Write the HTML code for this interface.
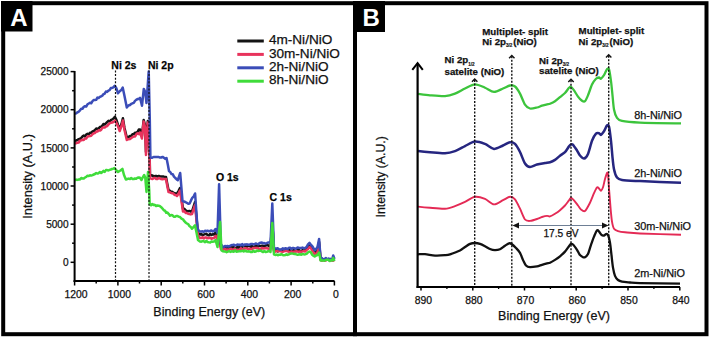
<!DOCTYPE html>
<html><head><meta charset="utf-8"><style>
body{margin:0;background:#fff}
svg{display:block}
text{font-family:"Liberation Sans",sans-serif;fill:#111;stroke:#111;stroke-width:0.25px}
.tk{font-size:10.1px}
.tkx{font-size:10.4px}
.tkb{font-size:10.4px}
.ttl{font-size:12.5px}
.ttl2{font-size:12.8px}
.ttlb{font-size:12.5px}
.ttlb2{font-size:12.3px}
.bl{font-size:10.5px;font-weight:bold;fill:#000}
.bb{font-size:9.7px;font-weight:bold;fill:#111}
.sub{font-size:4.6px;stroke-width:0.15px}
.lg{font-size:13.6px}
.lb{font-size:10.9px}
.ev{font-size:10.2px}
.pl{font-size:24px;font-weight:bold;fill:#fff;stroke:none}
</style></head>
<body><svg width="710" height="338" viewBox="0 0 710 338">
<rect width="710" height="338" fill="#fff"/>
<path d="M75.0,141.5 L76.2,140.3 L77.5,140.1 L78.8,139.1 L80.0,138.8 L81.2,138.1 L82.5,136.4 L83.8,135.6 L85.0,136.4 L86.2,134.6 L87.5,133.8 L88.8,134.5 L90.0,132.8 L91.2,132.8 L92.5,131.4 L93.8,131.0 L95.0,130.0 L96.2,128.6 L97.4,128.7 L98.6,128.4 L99.9,127.0 L101.1,126.7 L102.3,125.8 L103.5,124.0 L104.7,124.5 L105.9,123.4 L107.1,122.1 L108.4,120.9 L109.6,121.7 L110.8,120.2 L112.0,119.5 L113.5,118.5 L114.9,116.8 L116.5,120.0 L118.1,125.2 L119.7,129.0 L121.5,124.0 L122.9,118.2 L124.5,128.0 L126.8,137.5 L128.4,137.1 L130.0,136.0 L131.3,135.9 L132.5,134.2 L133.8,134.1 L135.1,132.7 L136.3,132.7 L137.6,131.8 L138.8,129.6 L140.1,129.5 L141.9,136.0 L143.7,120.0 L145.0,125.0 L146.0,152.0 L147.8,121.0 L149.2,130.0 L150.0,176.0 L151.2,175.3 L152.5,175.5 L153.8,176.8 L155.0,176.0 L156.2,176.0 L157.5,176.5 L158.8,176.0 L160.0,176.5 L161.2,176.6 L162.4,176.5 L163.6,176.5 L164.8,177.1 L166.0,177.0 L167.2,183.5 L168.5,190.0 L169.7,190.7 L170.9,191.7 L172.1,191.8 L173.4,192.8 L174.6,193.1 L175.8,193.9 L177.0,193.5 L178.5,191.1 L180.0,188.0 L181.5,198.5 L183.0,209.0 L184.3,208.8 L185.6,210.4 L186.9,210.9 L188.1,211.2 L189.4,210.9 L190.7,211.5 L192.0,211.5 L193.5,206.8 L195.0,202.0 L196.5,217.5 L198.0,233.0 L200.0,234.5 L201.3,234.0 L202.5,235.1 L203.8,234.6 L205.1,234.1 L206.4,233.7 L207.6,235.1 L208.9,235.4 L210.2,233.8 L211.5,235.0 L212.7,234.3 L214.0,234.5 L215.5,232.5 L217.5,236.0 L219.1,222.0 L220.8,247.0 L222.5,248.0 L223.7,247.3 L225.0,247.5 L226.2,248.3 L227.4,248.4 L228.6,246.8 L229.9,247.8 L231.1,246.7 L232.3,247.8 L233.6,247.0 L234.8,248.0 L236.0,248.1 L237.3,247.1 L238.5,247.9 L239.7,246.6 L240.9,246.1 L242.2,247.0 L243.4,245.9 L244.6,246.1 L245.9,246.4 L247.1,246.7 L248.3,245.8 L249.6,245.6 L250.8,247.0 L252.0,245.9 L253.2,247.0 L254.5,246.8 L255.7,245.8 L256.9,245.9 L258.2,245.9 L259.4,246.1 L260.6,245.9 L261.9,245.8 L263.1,245.8 L264.3,246.3 L265.5,245.5 L266.8,245.2 L268.0,245.3 L269.2,246.3 L270.5,246.5 L272.3,223.0 L274.0,250.5 L275.2,250.0 L276.5,250.1 L277.7,251.4 L279.0,250.5 L280.2,250.6 L281.4,249.6 L282.7,250.3 L283.9,250.6 L285.2,249.6 L286.4,250.7 L287.6,250.7 L288.9,249.7 L290.1,250.7 L291.4,250.4 L292.6,250.8 L293.8,250.2 L295.1,250.9 L296.3,250.9 L297.6,249.6 L298.8,249.7 L300.0,250.8 L301.3,251.3 L302.5,250.1 L303.8,250.4 L305.0,250.5 L306.5,248.8 L308.0,246.5 L309.5,245.0 L310.8,246.6 L312.1,248.4 L313.4,250.4 L314.7,252.5 L316.1,251.4 L317.5,250.0 L319.1,242.0 L320.6,259.5 L321.9,259.1 L323.1,259.3 L324.4,260.0 L325.7,258.6 L326.9,259.6 L328.2,259.9 L329.4,259.2 L330.7,259.0 L332.0,260.0 L333.2,259.0 L334.5,259.5" fill="none" stroke="#141414" stroke-width="2.5" stroke-linejoin="round"/>
<path d="M75.0,144.2 L76.2,142.9 L77.5,142.7 L78.8,142.5 L80.0,140.7 L81.2,140.4 L82.5,139.7 L83.8,139.9 L85.0,138.5 L86.2,138.5 L87.5,136.6 L88.8,136.2 L90.0,136.1 L91.2,135.8 L92.5,134.3 L93.8,133.2 L95.0,133.0 L96.2,131.6 L97.4,131.6 L98.6,130.2 L99.9,130.6 L101.1,129.9 L102.3,127.9 L103.5,127.4 L104.7,127.6 L105.9,126.5 L107.1,126.1 L108.4,124.5 L109.6,123.3 L110.8,122.9 L112.0,122.5 L113.5,122.0 L114.9,120.5 L116.5,123.0 L118.1,126.6 L119.7,131.0 L121.5,126.0 L122.9,120.5 L124.5,130.0 L126.8,140.0 L128.4,139.2 L130.0,139.0 L131.3,138.0 L132.5,137.2 L133.8,136.4 L135.1,136.5 L136.3,134.3 L137.6,133.2 L138.8,134.1 L140.1,132.5 L141.9,138.5 L143.7,121.5 L145.0,127.0 L146.0,155.0 L147.8,122.5 L149.2,135.0 L150.0,178.0 L151.2,178.7 L152.5,178.9 L153.8,177.9 L155.0,178.0 L156.2,178.9 L157.5,179.0 L158.8,177.9 L160.0,178.5 L161.2,179.0 L162.4,179.3 L163.6,179.1 L164.8,178.9 L166.0,179.0 L167.2,185.5 L168.5,192.0 L169.7,192.2 L170.9,192.9 L172.1,193.2 L173.4,193.5 L174.6,195.0 L175.8,195.0 L177.0,196.0 L178.5,193.8 L180.0,190.5 L181.5,201.0 L183.0,211.5 L184.3,211.0 L185.6,212.9 L186.9,212.9 L188.1,213.7 L189.4,214.0 L190.7,214.4 L192.0,214.0 L193.5,209.5 L195.0,205.0 L196.5,220.5 L198.0,236.0 L200.0,238.0 L201.3,238.1 L202.5,237.1 L203.8,238.4 L205.1,237.4 L206.4,237.6 L207.6,238.3 L208.9,238.0 L210.2,237.8 L211.5,238.8 L212.7,238.2 L214.0,238.0 L215.5,236.0 L217.5,239.5 L219.1,222.0 L220.8,249.0 L222.5,249.5 L223.7,249.2 L225.0,249.0 L226.2,250.1 L227.4,249.4 L228.6,249.9 L229.9,249.1 L231.1,248.8 L232.3,249.3 L233.6,249.8 L234.8,248.6 L236.0,249.7 L237.3,249.9 L238.5,249.7 L239.7,249.7 L240.9,248.2 L242.2,249.3 L243.4,249.7 L244.6,248.2 L245.9,248.6 L247.1,248.5 L248.3,249.0 L249.6,248.8 L250.8,248.8 L252.0,249.3 L253.2,247.9 L254.5,248.0 L255.7,248.1 L256.9,248.1 L258.2,247.9 L259.4,249.5 L260.6,249.3 L261.9,247.9 L263.1,248.6 L264.3,248.2 L265.5,248.2 L266.8,248.3 L268.0,248.5 L269.2,249.0 L270.5,249.0 L272.3,223.0 L274.0,251.5 L275.2,251.7 L276.5,251.2 L277.7,250.9 L279.0,251.2 L280.2,250.8 L281.4,251.6 L282.7,251.9 L283.9,251.3 L285.2,250.7 L286.4,250.9 L287.6,251.3 L288.9,251.7 L290.1,252.0 L291.4,251.3 L292.6,252.0 L293.8,251.7 L295.1,251.4 L296.3,251.3 L297.6,251.5 L298.8,251.9 L300.0,251.4 L301.3,251.8 L302.5,251.4 L303.8,251.0 L305.0,251.5 L306.5,250.1 L308.0,248.9 L309.5,247.0 L310.8,248.0 L312.1,250.4 L313.4,252.1 L314.7,254.0 L316.1,253.7 L317.5,252.0 L319.1,245.0 L320.6,260.0 L321.9,260.8 L323.1,259.8 L324.4,260.7 L325.7,260.5 L326.9,259.6 L328.2,259.9 L329.4,259.3 L330.7,260.6 L332.0,260.3 L333.2,260.7 L334.5,260.0" fill="none" stroke="#e8335c" stroke-width="2.5" stroke-linejoin="round"/>
<path d="M75.0,113.7 L76.2,113.4 L77.5,112.3 L78.8,111.6 L80.0,110.4 L81.2,108.7 L82.5,108.7 L83.8,106.8 L85.0,106.2 L86.2,106.5 L87.5,104.3 L88.8,103.5 L90.0,102.7 L91.2,103.3 L92.5,101.1 L93.8,100.0 L95.0,100.0 L96.2,99.8 L97.4,97.6 L98.6,98.0 L99.9,96.9 L101.1,96.3 L102.3,95.7 L103.5,94.1 L104.7,93.7 L105.9,91.5 L107.1,91.9 L108.4,90.6 L109.6,90.1 L110.8,88.1 L112.0,88.0 L113.3,87.3 L114.7,85.7 L116.5,88.5 L118.0,93.3 L120.0,91.0 L121.3,90.0 L122.7,87.5 L124.5,96.0 L126.8,107.5 L128.4,105.5 L130.0,105.0 L131.2,103.8 L132.5,103.3 L133.8,102.9 L135.0,100.9 L136.2,99.9 L137.5,99.1 L138.8,98.9 L140.0,97.8 L142.0,105.7 L143.8,88.9 L145.3,92.0 L146.5,103.0 L148.7,71.5 L149.8,120.0 L150.4,157.5 L151.9,157.8 L153.5,157.0 L155.0,157.0 L156.2,156.9 L157.5,157.1 L158.8,157.1 L160.0,157.5 L161.3,157.5 L162.6,156.9 L163.9,157.8 L165.2,158.8 L166.5,158.0 L167.8,164.5 L169.0,171.0 L170.3,172.2 L171.5,174.1 L172.8,174.3 L174.0,176.6 L175.3,178.0 L176.5,179.2 L177.8,180.2 L180.2,173.0 L182.5,201.0 L183.9,201.5 L185.3,202.0 L186.8,202.8 L188.2,203.7 L189.6,203.5 L191.0,200.4 L192.3,197.8 L193.7,196.4 L195.1,193.5 L196.3,211.0 L197.5,228.5 L198.8,230.7 L200.0,231.5 L201.3,231.5 L202.5,231.3 L203.8,231.8 L205.1,230.8 L206.4,230.9 L207.6,230.7 L208.9,231.3 L210.2,230.8 L211.5,230.6 L212.7,231.4 L214.0,231.0 L215.5,229.0 L217.5,233.0 L219.1,184.2 L220.8,244.0 L222.5,246.5 L223.7,247.2 L225.0,245.9 L226.2,246.5 L227.4,245.9 L228.6,246.6 L229.9,246.0 L231.1,245.3 L232.3,245.1 L233.6,244.7 L234.8,245.4 L236.0,245.1 L237.3,244.6 L238.5,244.8 L239.7,244.7 L240.9,245.4 L242.2,244.1 L243.4,245.5 L244.6,244.5 L245.9,244.6 L247.1,244.3 L248.3,244.8 L249.6,244.7 L250.8,244.1 L252.0,243.9 L253.2,244.2 L254.5,244.3 L255.7,243.4 L256.9,243.9 L258.2,244.2 L259.4,243.2 L260.6,242.7 L261.9,242.6 L263.1,243.3 L264.3,243.1 L265.5,243.5 L266.8,243.2 L268.0,242.5 L269.2,242.5 L270.5,243.5 L272.3,203.6 L274.0,249.0 L275.2,248.4 L276.5,248.5 L277.7,248.3 L279.0,249.2 L280.2,249.4 L281.4,249.5 L282.7,248.3 L283.9,249.3 L285.2,248.3 L286.4,248.5 L287.6,249.0 L288.9,247.8 L290.1,247.7 L291.4,249.0 L292.6,248.0 L293.8,248.1 L295.1,248.5 L296.3,248.6 L297.6,247.4 L298.8,247.9 L300.0,248.0 L301.3,248.1 L302.5,247.6 L303.8,248.2 L305.0,248.0 L306.5,247.1 L308.0,244.4 L309.5,242.9 L310.8,244.8 L312.1,245.9 L313.4,248.0 L314.7,250.3 L316.1,248.9 L317.5,247.0 L319.1,238.9 L320.6,258.7 L321.9,258.0 L323.2,259.4 L324.5,259.4 L325.8,258.0 L327.2,259.5 L328.5,258.5 L329.8,259.2 L331.1,259.2 L332.4,258.7 L333.2,255.5 L334.5,259.0" fill="none" stroke="#3b4db8" stroke-width="2.5" stroke-linejoin="round"/>
<path d="M75.0,180.4 L76.2,179.6 L77.5,179.9 L78.8,179.5 L80.0,179.4 L81.2,178.0 L82.5,178.5 L83.8,178.4 L85.0,177.5 L86.2,176.9 L87.5,175.7 L88.8,176.0 L90.0,175.3 L91.2,175.6 L92.5,175.1 L93.8,174.5 L95.0,174.0 L96.2,173.1 L97.4,173.5 L98.6,173.2 L99.9,172.0 L101.1,172.9 L102.3,172.1 L103.5,170.8 L104.7,171.9 L105.9,170.1 L107.1,170.1 L108.4,170.5 L109.6,169.9 L110.8,169.5 L112.0,169.0 L113.2,168.8 L114.4,168.0 L116.5,170.5 L118.0,172.0 L119.2,171.2 L120.5,170.5 L122.4,168.9 L124.0,175.0 L125.9,179.5 L127.3,179.0 L128.6,178.6 L130.0,179.0 L131.2,178.1 L132.5,179.1 L133.8,179.0 L135.0,178.5 L136.2,178.7 L137.5,177.8 L138.8,177.5 L140.0,177.8 L141.5,180.0 L142.8,177.3 L144.2,175.0 L145.3,178.0 L146.5,192.0 L148.0,172.0 L149.2,190.0 L149.7,204.4 L151.0,205.3 L152.3,204.0 L153.6,205.1 L154.8,204.8 L156.1,206.0 L157.4,205.5 L158.7,205.7 L160.0,206.2 L161.2,207.2 L162.5,208.6 L163.8,210.3 L165.0,210.7 L166.2,212.8 L167.5,212.6 L168.8,214.1 L170.0,215.7 L171.2,215.1 L172.5,215.3 L173.8,216.7 L175.0,216.8 L176.2,215.9 L177.5,216.1 L178.8,216.7 L180.0,217.0 L181.5,218.6 L183.0,219.3 L184.3,221.2 L185.6,222.5 L186.9,223.5 L188.1,224.1 L189.4,225.9 L190.7,226.9 L192.0,228.8 L193.5,227.0 L195.0,225.2 L196.5,232.6 L198.0,240.0 L200.0,241.6 L201.3,241.7 L202.5,241.1 L203.8,241.2 L205.1,242.1 L206.4,240.8 L207.6,242.1 L208.9,242.3 L210.2,242.4 L211.5,241.4 L212.7,241.7 L214.0,241.6 L215.5,240.0 L217.5,247.0 L218.8,234.5 L220.1,222.0 L221.5,250.5 L223.0,251.3 L224.2,251.4 L225.4,251.5 L226.6,252.2 L227.9,251.6 L229.1,250.9 L230.3,251.9 L231.5,251.3 L232.7,251.5 L233.9,251.7 L235.2,250.4 L236.4,251.8 L237.6,251.6 L238.8,251.3 L240.0,251.3 L241.2,251.2 L242.5,250.7 L243.7,251.4 L244.9,250.5 L246.1,251.3 L247.3,251.6 L248.5,251.2 L249.8,251.4 L251.0,252.1 L252.2,252.0 L253.4,250.6 L254.6,251.8 L255.8,251.5 L257.1,250.5 L258.3,251.0 L259.5,250.8 L260.7,250.5 L261.9,251.4 L263.1,252.1 L264.4,251.0 L265.6,252.0 L266.8,251.7 L268.0,251.3 L269.2,251.0 L270.5,252.0 L272.3,223.0 L274.0,254.4 L275.2,255.0 L276.5,254.6 L277.7,255.2 L279.0,254.8 L280.2,254.8 L281.4,254.1 L282.7,255.0 L283.9,255.2 L285.2,255.1 L286.4,254.3 L287.6,254.9 L288.9,254.4 L290.1,253.7 L291.4,253.6 L292.6,253.6 L293.8,253.9 L295.1,253.8 L296.3,254.4 L297.6,254.8 L298.8,254.5 L300.0,254.3 L301.3,254.7 L302.5,254.0 L303.8,254.3 L305.0,254.4 L306.5,253.9 L308.0,252.3 L309.5,251.5 L310.8,252.2 L312.1,254.7 L313.4,255.6 L314.7,256.5 L316.1,255.5 L317.5,255.0 L319.1,252.5 L320.6,260.5 L321.9,260.3 L323.2,260.6 L324.5,260.7 L325.8,260.0 L327.2,259.6 L328.5,260.0 L329.8,261.0 L331.1,259.9 L332.4,260.5 L333.2,258.0 L334.5,261.0" fill="none" stroke="#3fdc3a" stroke-width="2.5" stroke-linejoin="round"/>
<line x1="74.6" y1="71" x2="74.6" y2="282" stroke="#000" stroke-width="2"/>
<line x1="73.6" y1="281" x2="334.5" y2="281" stroke="#000" stroke-width="2"/>
<line x1="70.6" y1="262.3" x2="74.6" y2="262.3" stroke="#000" stroke-width="1.5"/>
<text x="68.6" y="265.9" text-anchor="end" class="tk">0</text>
<line x1="72.1" y1="243.2" x2="74.6" y2="243.2" stroke="#000" stroke-width="1.5"/>
<line x1="70.6" y1="224.2" x2="74.6" y2="224.2" stroke="#000" stroke-width="1.5"/>
<text x="68.6" y="227.8" text-anchor="end" class="tk">5000</text>
<line x1="72.1" y1="205.1" x2="74.6" y2="205.1" stroke="#000" stroke-width="1.5"/>
<line x1="70.6" y1="186.0" x2="74.6" y2="186.0" stroke="#000" stroke-width="1.5"/>
<text x="68.6" y="189.6" text-anchor="end" class="tk">10000</text>
<line x1="72.1" y1="167.0" x2="74.6" y2="167.0" stroke="#000" stroke-width="1.5"/>
<line x1="70.6" y1="147.9" x2="74.6" y2="147.9" stroke="#000" stroke-width="1.5"/>
<text x="68.6" y="151.5" text-anchor="end" class="tk">15000</text>
<line x1="72.1" y1="128.8" x2="74.6" y2="128.8" stroke="#000" stroke-width="1.5"/>
<line x1="70.6" y1="109.7" x2="74.6" y2="109.7" stroke="#000" stroke-width="1.5"/>
<text x="68.6" y="113.3" text-anchor="end" class="tk">20000</text>
<line x1="72.1" y1="90.7" x2="74.6" y2="90.7" stroke="#000" stroke-width="1.5"/>
<line x1="70.6" y1="71.6" x2="74.6" y2="71.6" stroke="#000" stroke-width="1.5"/>
<text x="68.6" y="75.2" text-anchor="end" class="tk">25000</text>
<line x1="74.6" y1="281" x2="74.6" y2="285.5" stroke="#000" stroke-width="1.5"/>
<text x="76.1" y="298.2" text-anchor="middle" class="tkx">1200</text>
<line x1="96.2" y1="281" x2="96.2" y2="283.5" stroke="#000" stroke-width="1.5"/>
<line x1="117.9" y1="281" x2="117.9" y2="285.5" stroke="#000" stroke-width="1.5"/>
<text x="119.4" y="298.2" text-anchor="middle" class="tkx">1000</text>
<line x1="139.5" y1="281" x2="139.5" y2="283.5" stroke="#000" stroke-width="1.5"/>
<line x1="161.2" y1="281" x2="161.2" y2="285.5" stroke="#000" stroke-width="1.5"/>
<text x="162.7" y="298.2" text-anchor="middle" class="tkx">800</text>
<line x1="182.8" y1="281" x2="182.8" y2="283.5" stroke="#000" stroke-width="1.5"/>
<line x1="204.5" y1="281" x2="204.5" y2="285.5" stroke="#000" stroke-width="1.5"/>
<text x="206.0" y="298.2" text-anchor="middle" class="tkx">600</text>
<line x1="226.1" y1="281" x2="226.1" y2="283.5" stroke="#000" stroke-width="1.5"/>
<line x1="247.8" y1="281" x2="247.8" y2="285.5" stroke="#000" stroke-width="1.5"/>
<text x="249.3" y="298.2" text-anchor="middle" class="tkx">400</text>
<line x1="269.4" y1="281" x2="269.4" y2="283.5" stroke="#000" stroke-width="1.5"/>
<line x1="291.1" y1="281" x2="291.1" y2="285.5" stroke="#000" stroke-width="1.5"/>
<text x="292.6" y="298.2" text-anchor="middle" class="tkx">200</text>
<line x1="312.8" y1="281" x2="312.8" y2="283.5" stroke="#000" stroke-width="1.5"/>
<line x1="334.4" y1="281" x2="334.4" y2="285.5" stroke="#000" stroke-width="1.5"/>
<text x="335.9" y="298.2" text-anchor="middle" class="tkx">0</text>
<text x="209.3" y="315.7" text-anchor="middle" class="ttl">Binding Energy (eV)</text>
<text transform="translate(31.6,176.4) rotate(-90)" text-anchor="middle" class="ttl2">Intensity (A.U.)</text>
<line x1="115.5" y1="70.5" x2="115.5" y2="280" stroke="#111" stroke-width="1.2" stroke-dasharray="2,1.6"/>
<line x1="149" y1="70.5" x2="149" y2="280" stroke="#111" stroke-width="1.2" stroke-dasharray="2,1.6"/>
<text x="111.3" y="68.6" class="bl">Ni 2s</text>
<text x="147.9" y="68.6" class="bl">Ni 2p</text>
<text x="215.9" y="181.2" class="bl">O 1s</text>
<text x="269.6" y="200.7" class="bl">C 1s</text>
<line x1="237.3" y1="41.0" x2="263.8" y2="41.0" stroke="#141414" stroke-width="3"/>
<text x="268.9" y="44.1" class="lg">4m-Ni/NiO</text>
<line x1="237.3" y1="54.4" x2="263.8" y2="54.4" stroke="#e8335c" stroke-width="3"/>
<text x="268.9" y="57.5" class="lg">30m-Ni/NiO</text>
<line x1="237.3" y1="67.8" x2="263.8" y2="67.8" stroke="#3b4db8" stroke-width="3"/>
<text x="268.9" y="70.9" class="lg">2h-Ni/NiO</text>
<line x1="237.3" y1="81.2" x2="263.8" y2="81.2" stroke="#3fdc3a" stroke-width="3"/>
<text x="268.9" y="84.3" class="lg">8h-Ni/NiO</text>
<path d="M418.0,93.9 C419.7,94.1 426.2,95.0 430.0,95.3 C433.8,95.6 441.5,96.3 445.0,96.1 C448.5,95.9 452.2,94.7 455.0,93.6 C457.8,92.5 462.2,89.8 465.0,88.5 C467.8,87.2 472.2,84.4 475.0,84.3 C477.8,84.2 482.3,86.6 485.0,87.7 C487.7,88.8 491.4,91.8 494.0,91.9 C496.6,92.0 500.7,89.4 503.0,88.5 C505.3,87.6 508.3,85.8 510.0,85.5 C511.7,85.2 513.6,85.4 515.0,86.5 C516.4,87.6 518.6,91.0 520.0,93.6 C521.4,96.2 523.6,102.5 525.0,104.6 C526.4,106.7 528.3,108.1 530.0,108.5 C531.7,108.9 535.3,107.9 537.0,107.5 C538.7,107.1 540.6,106.1 542.0,105.7 C543.4,105.3 545.9,104.7 547.0,104.4 C548.1,104.1 548.9,104.3 550.0,103.8 C551.1,103.3 553.6,102.1 555.0,101.2 C556.4,100.3 558.6,98.3 560.0,97.1 C561.4,95.9 563.7,94.3 565.0,93.0 C566.3,91.7 568.1,88.7 569.0,87.8 C569.9,86.9 570.3,86.3 571.0,86.7 C571.7,87.1 573.0,89.0 574.0,90.4 C575.0,91.8 576.9,95.1 578.0,96.6 C579.1,98.1 581.0,100.0 582.0,100.7 C583.0,101.4 584.1,102.0 585.0,101.2 C585.9,100.4 587.0,97.7 588.0,95.3 C589.0,92.9 590.9,87.0 592.0,84.6 C593.1,82.2 595.0,79.7 596.0,78.7 C597.0,77.7 598.3,77.5 599.0,77.5 C599.7,77.5 600.3,79.0 601.0,78.7 C601.7,78.4 603.1,76.5 604.0,75.2 C604.9,73.9 606.3,70.0 607.0,69.2 C607.7,68.4 608.4,67.5 609.0,69.2 C609.6,70.9 610.5,77.4 611.0,81.1 C611.5,84.8 612.1,91.3 612.5,95.3 C612.9,99.3 613.4,106.3 614.0,109.5 C614.6,112.7 615.9,116.2 617.0,117.8 C618.1,119.4 618.7,120.2 622.0,120.9 C625.3,121.6 631.6,122.2 640.0,122.6 C648.4,123.0 675.2,123.3 681.0,123.4" fill="none" stroke="#3cc43c" stroke-width="2.3" stroke-linejoin="round"/>
<path d="M418.0,151.1 C419.7,151.3 426.2,152.0 430.0,152.3 C433.8,152.6 441.5,153.5 445.0,153.3 C448.5,153.1 452.2,152.1 455.0,151.1 C457.8,150.1 462.2,147.5 465.0,146.1 C467.8,144.7 472.2,141.8 475.0,141.5 C477.8,141.2 482.3,142.9 485.0,143.9 C487.7,144.9 491.4,148.7 494.0,148.9 C496.6,149.1 500.7,146.4 503.0,145.5 C505.3,144.6 508.3,142.4 510.0,142.2 C511.7,142.0 513.6,142.5 515.0,143.9 C516.4,145.3 518.6,149.2 520.0,152.0 C521.4,154.8 523.6,161.4 525.0,163.5 C526.4,165.6 528.3,166.9 530.0,167.0 C531.7,167.1 534.9,165.1 537.0,164.5 C539.1,163.9 543.2,163.3 545.0,163.0 C546.8,162.7 548.6,162.6 550.0,162.2 C551.4,161.8 553.6,160.8 555.0,159.9 C556.4,159.0 558.6,156.8 560.0,155.7 C561.4,154.6 563.7,153.4 565.0,152.1 C566.3,150.8 568.1,147.5 569.0,146.4 C569.9,145.3 570.4,144.7 571.0,144.5 C571.6,144.3 572.1,144.0 573.0,144.8 C573.9,145.7 576.0,149.0 577.0,150.5 C578.0,152.0 579.0,154.4 580.0,155.5 C581.0,156.6 582.9,158.8 584.0,158.6 C585.1,158.4 586.9,156.4 588.0,153.9 C589.1,151.4 590.9,143.7 592.0,140.8 C593.1,137.9 595.0,134.8 596.0,133.7 C597.0,132.6 598.3,133.0 599.0,133.2 C599.7,133.4 600.3,135.2 601.0,134.9 C601.7,134.6 603.1,132.6 604.0,131.3 C604.9,130.0 606.3,126.1 607.0,125.4 C607.7,124.7 608.4,124.4 609.0,126.6 C609.6,128.8 610.5,136.4 611.0,140.8 C611.5,145.2 612.1,153.4 612.5,157.4 C612.9,161.4 613.4,166.4 614.0,169.3 C614.6,172.2 615.9,176.1 617.0,177.6 C618.1,179.1 618.7,179.5 622.0,180.0 C625.3,180.5 631.6,180.7 640.0,181.1 C648.4,181.5 675.2,182.6 681.0,182.8" fill="none" stroke="#262680" stroke-width="2.5" stroke-linejoin="round"/>
<path d="M418.0,206.6 C419.7,206.8 426.2,207.5 430.0,207.8 C433.8,208.1 441.5,208.9 445.0,208.7 C448.5,208.5 452.2,207.1 455.0,206.1 C457.8,205.1 462.2,203.2 465.0,201.9 C467.8,200.6 472.2,197.2 475.0,196.8 C477.8,196.4 482.3,197.8 485.0,198.9 C487.7,200.0 491.4,204.2 494.0,204.4 C496.6,204.6 500.7,201.3 503.0,200.2 C505.3,199.1 508.3,196.9 510.0,196.8 C511.7,196.7 513.6,197.7 515.0,199.4 C516.4,201.1 518.6,205.9 520.0,208.7 C521.4,211.5 523.6,217.8 525.0,219.5 C526.4,221.2 528.3,221.0 530.0,220.9 C531.7,220.8 535.3,219.6 537.0,219.0 C538.7,218.4 540.6,217.4 542.0,217.0 C543.4,216.6 545.9,216.0 547.0,215.9 C548.1,215.8 548.9,216.7 550.0,216.4 C551.1,216.1 553.6,214.7 555.0,213.8 C556.4,212.9 558.6,211.4 560.0,210.2 C561.4,209.0 563.7,206.9 565.0,205.5 C566.3,204.1 568.1,201.5 569.0,200.4 C569.9,199.3 570.3,197.8 571.0,197.8 C571.7,197.8 573.0,199.3 574.0,200.4 C575.0,201.5 577.0,204.2 578.0,205.5 C579.0,206.8 580.0,208.7 581.0,209.5 C582.0,210.3 583.7,212.0 585.0,211.0 C586.3,210.0 588.7,205.2 590.0,202.7 C591.3,200.2 593.0,195.4 594.0,193.2 C595.0,191.0 596.3,188.0 597.0,187.3 C597.7,186.6 598.4,188.0 599.0,188.5 C599.6,189.0 600.4,191.0 601.0,190.8 C601.6,190.6 602.4,189.0 603.0,187.3 C603.6,185.6 604.4,181.0 605.0,179.0 C605.6,177.0 606.6,173.7 607.0,173.0 C607.4,172.3 607.7,172.0 608.0,174.2 C608.3,176.4 608.6,183.8 609.0,188.5 C609.4,193.2 610.1,202.7 610.5,207.4 C610.9,212.1 611.5,218.7 612.0,221.7 C612.5,224.7 613.1,227.5 614.0,228.8 C614.9,230.1 616.4,230.6 618.0,231.1 C619.6,231.6 621.9,232.0 625.0,232.3 C628.1,232.6 632.1,233.2 640.0,233.5 C647.9,233.8 675.2,234.5 681.0,234.7" fill="none" stroke="#e42a55" stroke-width="1.9" stroke-linejoin="round"/>
<path d="M418.0,254.3 C419.0,254.3 422.6,253.9 425.0,254.1 C427.4,254.3 432.2,255.4 435.0,255.6 C437.8,255.8 442.9,255.4 445.0,255.2 C447.1,255.0 447.9,255.0 450.0,254.3 C452.1,253.6 457.9,251.5 460.0,250.5 C462.1,249.5 463.6,247.9 465.0,247.0 C466.4,246.1 468.6,244.5 470.0,243.9 C471.4,243.3 473.6,243.0 475.0,243.0 C476.4,243.0 478.6,243.4 480.0,243.9 C481.4,244.4 483.6,245.5 485.0,246.2 C486.4,246.9 488.6,248.4 490.0,249.0 C491.4,249.6 493.6,250.1 495.0,250.1 C496.4,250.1 498.6,249.8 500.0,249.2 C501.4,248.6 503.7,246.5 505.0,245.7 C506.3,244.9 508.0,243.5 509.0,243.3 C510.0,243.1 511.0,243.5 512.0,244.2 C513.0,244.9 514.9,246.8 516.0,248.0 C517.1,249.2 519.0,251.1 520.0,252.8 C521.0,254.5 522.1,258.1 523.0,259.9 C523.9,261.7 525.0,264.5 526.0,265.5 C527.0,266.5 528.4,267.1 530.0,267.2 C531.6,267.3 535.3,266.7 537.0,266.4 C538.7,266.1 540.6,265.2 542.0,264.8 C543.4,264.4 545.9,263.7 547.0,263.4 C548.1,263.1 548.9,263.3 550.0,262.8 C551.1,262.3 553.6,260.8 555.0,259.9 C556.4,259.0 558.6,257.5 560.0,256.3 C561.4,255.1 563.7,253.0 565.0,251.6 C566.3,250.2 568.1,247.3 569.0,246.2 C569.9,245.1 570.4,244.1 571.0,243.9 C571.6,243.7 572.1,243.7 573.0,244.5 C573.9,245.3 576.0,248.3 577.0,249.8 C578.0,251.3 579.1,254.1 580.0,255.1 C580.9,256.1 582.3,256.9 583.0,257.2 C583.7,257.5 584.3,257.6 585.0,257.2 C585.7,256.8 587.1,255.9 588.0,254.1 C588.9,252.3 590.1,247.3 591.0,244.8 C591.9,242.3 593.1,238.7 594.0,236.6 C594.9,234.5 596.3,231.0 597.0,230.3 C597.7,229.6 598.4,230.7 599.0,231.4 C599.6,232.1 600.8,234.3 601.5,234.9 C602.2,235.5 603.4,235.6 604.0,235.5 C604.6,235.4 605.4,234.2 606.0,234.1 C606.6,234.0 607.4,233.7 608.0,234.9 C608.6,236.1 609.5,239.9 610.0,242.8 C610.5,245.7 611.1,251.7 611.5,255.2 C611.9,258.7 612.5,264.7 613.0,267.6 C613.5,270.5 614.3,274.1 615.0,275.9 C615.7,277.7 617.0,279.2 618.0,280.0 C619.0,280.8 620.3,281.3 622.0,281.7 C623.7,282.1 627.5,282.3 630.0,282.5 C632.5,282.7 632.9,282.9 640.0,283.1 C647.1,283.3 674.3,283.6 680.0,283.7" fill="none" stroke="#111111" stroke-width="2.3" stroke-linejoin="round"/>
<line x1="417.6" y1="63.5" x2="417.6" y2="288" stroke="#000" stroke-width="2.2"/>
<polyline points="412.3,69.8 417.6,63.2 422.8,69.8" fill="none" stroke="#000" stroke-width="2"/>
<line x1="416.6" y1="287" x2="680" y2="287" stroke="#000" stroke-width="2"/>
<line x1="421.0" y1="287" x2="421.0" y2="290.5" stroke="#000" stroke-width="1.5"/>
<text x="423.3" y="303.8" text-anchor="middle" class="tkb">890</text>
<line x1="446.9" y1="287" x2="446.9" y2="289" stroke="#000" stroke-width="1.3"/>
<line x1="472.8" y1="287" x2="472.8" y2="290.5" stroke="#000" stroke-width="1.5"/>
<text x="473.8" y="303.8" text-anchor="middle" class="tkb">880</text>
<line x1="498.6" y1="287" x2="498.6" y2="289" stroke="#000" stroke-width="1.3"/>
<line x1="524.5" y1="287" x2="524.5" y2="290.5" stroke="#000" stroke-width="1.5"/>
<text x="525.5" y="303.8" text-anchor="middle" class="tkb">870</text>
<line x1="550.4" y1="287" x2="550.4" y2="289" stroke="#000" stroke-width="1.3"/>
<line x1="576.2" y1="287" x2="576.2" y2="290.5" stroke="#000" stroke-width="1.5"/>
<text x="577.2" y="303.8" text-anchor="middle" class="tkb">860</text>
<line x1="602.1" y1="287" x2="602.1" y2="289" stroke="#000" stroke-width="1.3"/>
<line x1="628.0" y1="287" x2="628.0" y2="290.5" stroke="#000" stroke-width="1.5"/>
<text x="629.0" y="303.8" text-anchor="middle" class="tkb">850</text>
<line x1="653.9" y1="287" x2="653.9" y2="289" stroke="#000" stroke-width="1.3"/>
<line x1="679.8" y1="287" x2="679.8" y2="290.5" stroke="#000" stroke-width="1.5"/>
<text x="680.8" y="303.8" text-anchor="middle" class="tkb">840</text>
<text x="554" y="319.6" text-anchor="middle" class="ttlb">Binding Energy (eV)</text>
<text transform="translate(385.1,176.8) rotate(-90)" text-anchor="middle" class="ttlb2">Intensity (A.U.)</text>
<line x1="474.7" y1="79.9" x2="474.7" y2="286" stroke="#111" stroke-width="1.4" stroke-dasharray="2,1.5"/>
<polyline points="472.0,81.80000000000001 474.7,79.0 477.4,81.80000000000001" fill="none" stroke="#111" stroke-width="1.4"/>
<line x1="511.8" y1="56.3" x2="511.8" y2="286" stroke="#111" stroke-width="1.4" stroke-dasharray="2,1.5"/>
<polyline points="509.1,58.199999999999996 511.8,55.4 514.5,58.199999999999996" fill="none" stroke="#111" stroke-width="1.4"/>
<line x1="571.0" y1="80.2" x2="571.0" y2="286" stroke="#111" stroke-width="1.4" stroke-dasharray="2,1.5"/>
<polyline points="568.3,82.10000000000001 571.0,79.3 573.7,82.10000000000001" fill="none" stroke="#111" stroke-width="1.4"/>
<line x1="608.7" y1="55.7" x2="608.7" y2="286" stroke="#111" stroke-width="1.4" stroke-dasharray="2,1.5"/>
<polyline points="606.0,57.6 608.7,54.800000000000004 611.4000000000001,57.6" fill="none" stroke="#111" stroke-width="1.4"/>
<text class="bb" x="482.3" y="35.0">Multiplet- split</text>
<text class="bb" x="482.3" y="45.2">Ni 2p<tspan class="sub" dy="2.2">3/2</tspan><tspan dy="-2.2" dx="0.8">(NiO)</tspan></text>
<text class="bb" x="578.6" y="34.2">Multiplet- split</text>
<text class="bb" x="578.6" y="44.6">Ni 2p<tspan class="sub" dy="2.2">3/2</tspan><tspan dy="-2.2" dx="0.8">(NiO)</tspan></text>
<text class="bb" x="444.6" y="63.3">Ni 2p<tspan class="sub" dy="2.4">1/2</tspan></text>
<text class="bb" x="444.6" y="75.0">satelite (NiO)</text>
<text class="bb" x="539.1" y="63.6">Ni 2p<tspan class="sub" dy="2.4">3/2</tspan></text>
<text class="bb" x="539.1" y="74">satelite (NiO)</text>
<line x1="516" y1="225.5" x2="605" y2="225.5" stroke="#6e7f95" stroke-width="1.2"/>
<polygon points="512.5,225.5 519,222.5 519,228.5" fill="#111"/>
<polygon points="608.5,225.5 602,222.5 602,228.5" fill="#111"/>
<text x="561" y="237" text-anchor="middle" class="ev">17.5 eV</text>
<text x="634.2" y="118.6" class="lb">8h-Ni/NiO</text>
<text x="634.2" y="177.1" class="lb">2h-Ni/NiO</text>
<text x="634.2" y="229.9" class="lb">30m-Ni/NiO</text>
<text x="634.2" y="277.1" class="lb">2m-Ni/NiO</text>
<rect x="3.2" y="3.2" width="351.8" height="331" fill="none" stroke="#000" stroke-width="4"/>
<rect x="355" y="3.2" width="351.5" height="331" fill="none" stroke="#000" stroke-width="4"/>
<rect x="1" y="1" width="31.5" height="30.5" fill="#000"/>
<rect x="353" y="1" width="32" height="31" fill="#000"/>
<text x="10.2" y="25.6" class="pl">A</text>
<text x="362.5" y="26" class="pl">B</text>
</svg></body></html>
